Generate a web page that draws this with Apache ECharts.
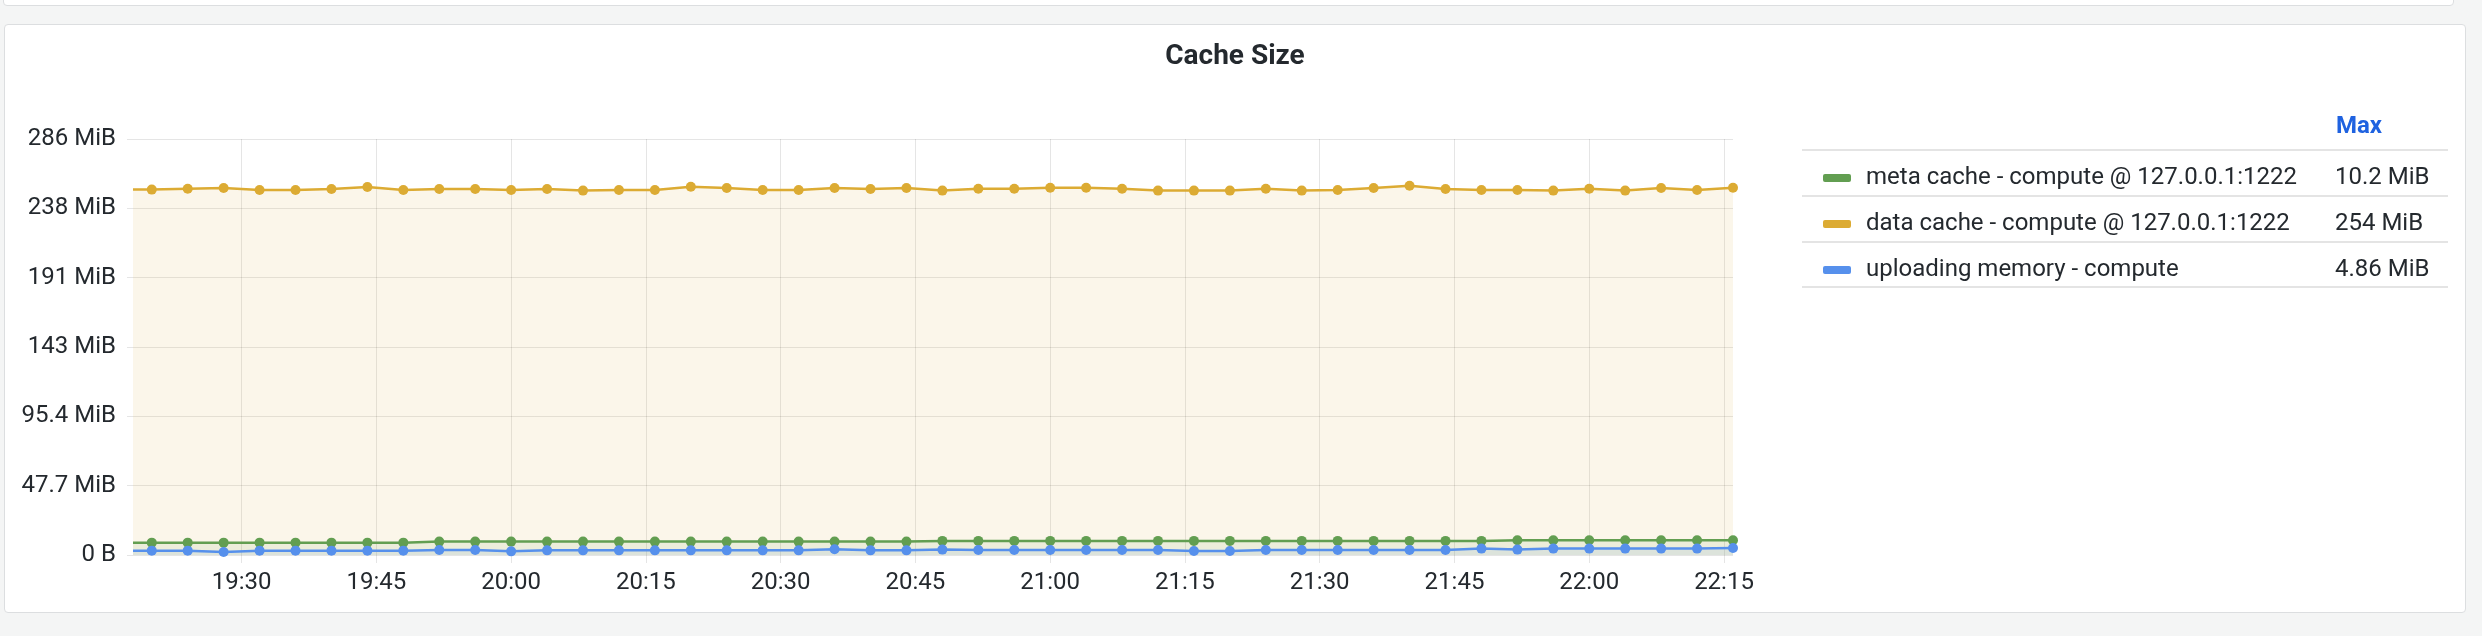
<!DOCTYPE html>
<html>
<head>
<meta charset="utf-8">
<title>Cache Size</title>
<script src="https://cdn.jsdelivr.net/npm/echarts@6/dist/echarts.min.js"></script>
<style>
  html, body { margin: 0; padding: 0; background: #f4f5f5; }
  #top { position: absolute; left: 3px; top: -8px; width: 2449px; height: 12px; background: #fff; border: 1px solid #dcdee0; border-radius: 4px; }
  #panel { position: absolute; left: 4px; top: 24px; width: 2460px; height: 587px; background: #fff; border: 1px solid #dcdee0; border-radius: 4px; }
  #chart { position: absolute; left: 0; top: 0; width: 2482px; height: 636px; }
</style>
</head>
<body>
<div id="top"></div>
<div id="panel"></div>
<div id="chart"></div>
<script>
// sample times (every 4 minutes)
const times = ['19:16', '19:20', '19:24', '19:28', '19:32', '19:36', '19:40', '19:44', '19:48', '19:52', '19:56',
  '20:00', '20:04', '20:08', '20:12', '20:16', '20:20', '20:24', '20:28', '20:32', '20:36', '20:40', '20:44', '20:48', '20:52', '20:56',
  '21:00', '21:04', '21:08', '21:12', '21:16', '21:20', '21:24', '21:28', '21:32', '21:36', '21:40', '21:44', '21:48', '21:52', '21:56',
  '22:00', '22:04', '22:08', '22:12', '22:16']

// values in MiB
const metaCache = [8.5, 8.5, 8.5, 8.5, 8.5, 8.5, 8.5, 8.5, 8.5,
  9.2, 9.2, 9.2, 9.2, 9.2, 9.2, 9.2, 9.2, 9.2, 9.2, 9.2, 9.2, 9.2, 9.2,
  9.7, 9.7, 9.7, 9.7, 9.7, 9.7, 9.7, 9.7, 9.7, 9.7, 9.7, 9.7, 9.7, 9.7, 9.7, 9.7,
  10.2, 10.2, 10.2, 10.2, 10.2, 10.2, 10.2]
const dataCache = [251.3, 251.3, 251.9, 252.4, 251.0, 251.0, 251.7, 253.1, 251.0, 251.7,
  251.7, 251.0, 251.7, 250.6, 251.0, 251.0, 253.3, 252.4, 251.0, 251.0,
  252.4, 251.7, 252.4, 250.6, 251.9, 251.9, 252.6, 252.6, 251.9, 250.6,
  250.6, 250.6, 251.9, 250.6, 251.0, 252.4, 254.0, 251.7, 251.0, 251.0,
  250.6, 251.9, 250.6, 252.4, 251.0, 252.6]
const uploading = [3.0, 3.0, 3.0, 2.1, 3.0, 3.0, 3.0, 3.0, 3.0, 3.4,
  3.4, 2.5, 3.2, 3.2, 3.2, 3.2, 3.2, 3.2, 3.2, 3.2,
  3.9, 3.2, 3.2, 3.7, 3.4, 3.4, 3.4, 3.4, 3.4, 3.4,
  2.75, 2.75, 3.4, 3.4, 3.4, 3.4, 3.4, 3.4, 4.4, 3.7,
  4.4, 4.4, 4.4, 4.4, 4.4, 4.86]

const seriesNames = ['meta cache - compute @ 127.0.0.1:1222', 'data cache - compute @ 127.0.0.1:1222', 'uploading memory - compute']
const seriesValues = [metaCache, dataCache, uploading]
const colors = ['#629E51', '#DCAB33', '#5690EC']

// y axis is in bytes: 0 .. 300 MB, one tick per 50 MB
const yTickLabels = ['0 B', '47.7 MiB', '95.4 MiB', '143 MiB', '191 MiB', '238 MiB', '286 MiB']

const MiB = 1024 * 1024
const textColor = '#24292e'
const gridColor = 'rgba(0, 0, 0, 0.1)'

function toTs(t) {
  const [h, m] = t.split(':').map(Number)
  return new Date(2024, 0, 1, h, m).getTime()
}

function pad(n) {
  return (n < 10 ? '0' : '') + n
}

function fmtMax(v) {
  const s = v >= 100 ? v.toFixed(0) : v >= 10 ? v.toFixed(1) : v.toFixed(2)
  return s + ' MiB'
}

const maxLabels = {}
seriesNames.forEach((name, i) => {
  maxLabels[name] = fmtMax(Math.max(...seriesValues[i]))
})

const chart = echarts.init(document.getElementById('chart'))

const option = {
  animation: false,
  backgroundColor: 'transparent',
  textStyle: { fontFamily: 'Roboto' },
  grid: { left: 135, right: 749, top: 139, bottom: 81 },
  xAxis: {
    type: 'time',
    min: toTs('19:18') + 8000,
    max: toTs('22:16'),
    // slightly above 15 min so the time scale settles on 15 min steps
    minInterval: 16 * 60 * 1000,
    maxInterval: 16 * 60 * 1000,
    axisLine: { show: false },
    axisTick: { show: true, length: 8, lineStyle: { color: gridColor } },
    splitLine: { show: true, showMinLine: false, showMaxLine: false, lineStyle: { color: gridColor } },
    axisLabel: {
      color: textColor,
      fontSize: 24,
      margin: 16,
      formatter: (v) => {
        const d = new Date(v)
        if (d.getMinutes() % 15 !== 0 || d.getSeconds() !== 0) return ''
        return pad(d.getHours()) + ':' + pad(d.getMinutes())
      }
    }
  },
  yAxis: {
    type: 'value',
    min: 0,
    max: 300e6,
    interval: 50e6,
    axisLine: { show: false },
    axisTick: { show: true, length: 8, lineStyle: { color: gridColor } },
    splitLine: { lineStyle: { color: gridColor } },
    axisLabel: {
      color: textColor,
      fontSize: 24,
      margin: 19,
      formatter: (v) => yTickLabels[Math.round(v / 50e6)]
    }
  },
  legend: {
    orient: 'vertical',
    left: 1818,
    top: 161,
    itemWidth: 28,
    itemHeight: 8,
    itemGap: 22,
    icon: 'roundRect',
    selectedMode: false,
    data: seriesNames,
    formatter: (name) => `{n|${name}}{v|${maxLabels[name]}}`,
    textStyle: {
      rich: {
        n: { fontSize: 24, color: textColor, width: 469, padding: [0, 0, 0, 10], lineHeight: 24 },
        v: { fontSize: 24, color: textColor, lineHeight: 24 }
      }
    }
  },
  graphic: [
    {
      type: 'text', x: 1235, y: 57,
      style: { text: 'Cache Size', font: 'bold 28px Roboto', fill: textColor, align: 'center', verticalAlign: 'middle' }
    },
    {
      type: 'text', x: 2336, y: 127,
      style: { text: 'Max', font: 'bold 24px Roboto', fill: '#1F62E0', align: 'left', verticalAlign: 'middle' }
    },
    ...[150, 196, 242, 287].map((y) => ({
      type: 'line',
      shape: { x1: 1802, y1: y, x2: 2448, y2: y },
      style: { stroke: '#e4e4e4', lineWidth: 2 }
    }))
  ],
  series: seriesNames.map((name, i) => ({
    name: name,
    type: 'line',
    color: colors[i],
    symbol: 'circle',
    symbolSize: 10,
    showSymbol: true,
    lineStyle: { width: 2.5 },
    areaStyle: { opacity: 0.1 },
    emphasis: { disabled: true },
    data: times.map((t, j) => [toTs(t), seriesValues[i][j] * MiB])
  }))
}

chart.setOption(option)
</script>
</body>
</html>
